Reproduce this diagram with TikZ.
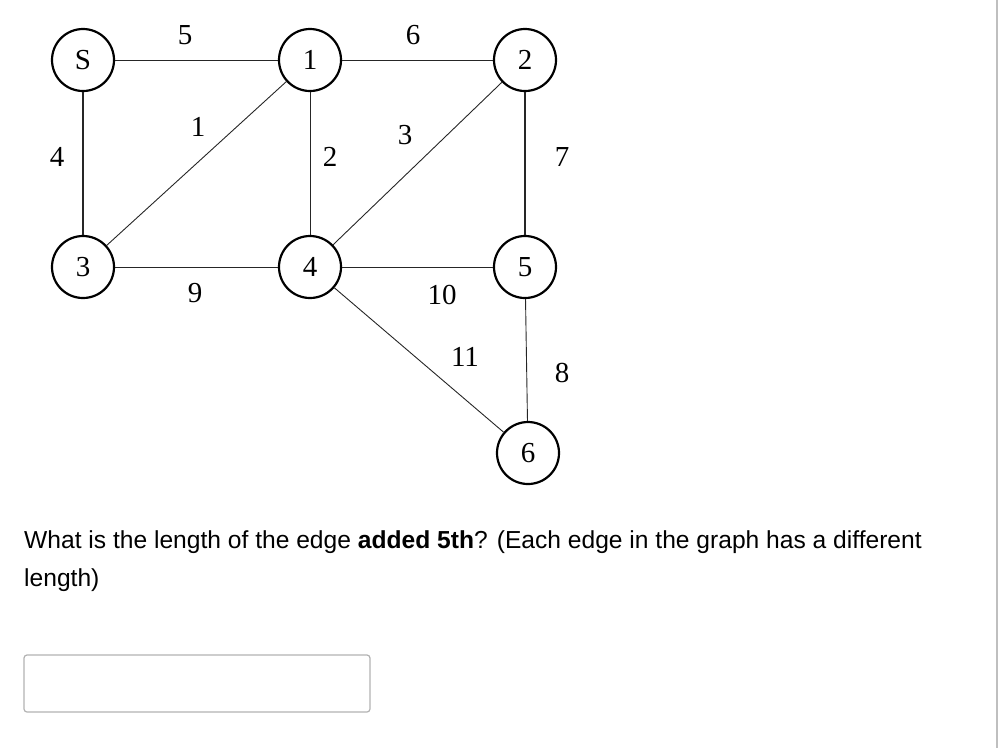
\documentclass[tikz,border=0pt]{standalone}
\usepackage{fontspec}
\setmainfont{Liberation Serif}
\newfontfamily\qfont{Liberation Sans}
\begin{document}
\begin{tikzpicture}[x=1pt,y=-1pt,
  vert/.style={circle,draw=black,line width=2.2pt,minimum size=62pt,inner sep=0pt,font=\fontsize{29}{29}\selectfont,fill=white},
  edg/.style={draw=black!85,line width=0.9pt},
  lab/.style={font=\fontsize{29}{29}\selectfont}]
\useasboundingbox (0,0) rectangle (1008,748);
\draw[black!25,line width=1.5pt] (997,0) -- (997,748);
\node[vert] (S) at (83,60) {S};
\node[vert] (n1) at (310,60) {1};
\node[vert] (n2) at (525,60) {2};
\node[vert] (n3) at (83,267) {3};
\node[vert] (n4) at (310,267) {4};
\node[vert] (n5) at (525,267) {5};
\node[vert] (n6) at (528,453) {6};
\draw[edg] (S) -- (n1);
\draw[edg] (n1) -- (n2);
\draw[edg,line width=1.4pt] (S) -- (n3);
\draw[edg] (n1) -- (n3);
\draw[edg] (n1) -- (n4);
\draw[edg] (n2) -- (n4);
\draw[edg,line width=1.4pt] (n2) -- (n5);
\draw[edg] (n3) -- (n4);
\draw[edg] (n4) -- (n5);
\draw[edg] (n4) -- (n6);
\draw[edg] (n5) -- (n6);
\node[lab] (l1) at (185,35) {5};
\node[lab] (l2) at (413,35) {6};
\node[lab] (l3) at (198,127) {1};
\node[lab] (l4) at (405,135) {3};
\node[lab] (l5) at (330,157) {2};
\node[lab] (l6) at (57,157) {4};
\node[lab] (l7) at (562,157) {7};
\node[lab] (l8) at (195,293) {9};
\node[lab] (l9) at (442,295) {10};
\node[lab] (l10) at (465,357) {11};
\node[lab] (l11) at (562,373) {8};
\node[anchor=west,font=\qfont\fontsize{24.6}{24.6}\selectfont,inner sep=0pt] (q1) at (24,542) {What is the length of the edge \textbf{added 5th}? (Each edge in the graph has a different};
\node[anchor=west,font=\qfont\fontsize{24.6}{24.6}\selectfont,inner sep=0pt] (q2) at (24,580) {length)};
\draw[black!30,line width=1.2pt,rounded corners=3pt] (24,655) rectangle (370,712);
\end{tikzpicture}
\end{document}
